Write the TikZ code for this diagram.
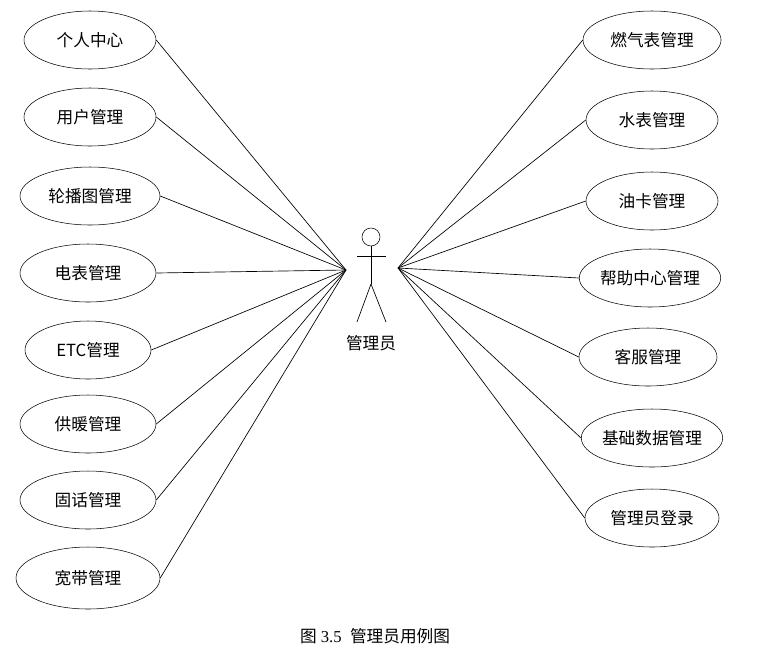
\documentclass[tikz,border=0pt]{standalone}
\usepackage{fontspec}
\setmainfont{Liberation Serif}
\newfontfamily\cjk{Noto Sans CJK SC}
\usetikzlibrary{shapes.geometric}
\begin{document}
\begin{tikzpicture}[x=0.75pt,y=-0.75pt,
  uc/.style={draw,ellipse,minimum width=132*0.75pt,minimum height=58*0.75pt,inner sep=0pt,font=\cjk\fontsize{12.5}{14}\selectfont},
  ln/.style={draw,line width=0.5pt}]
\useasboundingbox (0,0) rectangle (770,654);
\node[uc] (a1) at (90,40) {个人中心};
\node[uc] (a2) at (90,117) {用户管理};
\node[uc,minimum width=140*0.75pt] (a3) at (90,196) {轮播图管理};
\node[uc,minimum width=136*0.75pt] (a4) at (88,273) {电表管理};
\node[uc,minimum width=126*0.75pt] (a5) at (88,350) {ETC管理};
\node[uc,minimum width=136*0.75pt] (a6) at (88,424) {供暖管理};
\node[uc,minimum width=136*0.75pt] (a7) at (88,500) {固话管理};
\node[uc,minimum width=144*0.75pt,minimum height=62*0.75pt] (a8) at (88,578) {宽带管理};
\node[uc,minimum width=138*0.75pt] (b1) at (652,40) {燃气表管理};
\node[uc] (b2) at (652,120) {水表管理};
\node[uc] (b3) at (652,201) {油卡管理};
\node[uc,minimum width=140*0.75pt] (b4) at (650,278) {帮助中心管理};
\node[uc,minimum width=138*0.75pt] (b5) at (648,357) {客服管理};
\node[uc,minimum width=136*0.75pt] (b6) at (652,438) {基础数据管理};
\node[uc,minimum width=134*0.75pt] (b7) at (652,518) {管理员登录};
\coordinate (L) at (346,270);
\coordinate (R) at (398,268);
\foreach \i in {1,...,8} \draw[ln] (a\i.east) -- (L);
\foreach \i in {1,...,7} \draw[ln] (b\i.west) -- (R);
% actor
\node[draw,circle,minimum size=18*0.75pt,inner sep=0pt] (head) at (371,237) {};
\coordinate (hip) at (371,284);
\draw[ln] (head.south) -- (hip);
\draw[ln] (357,256) -- (386,256);
\draw[ln] (hip) -- (357,322);
\draw[ln] (hip) -- (386,322);
\node[font=\cjk\fontsize{12.5}{14}\selectfont] (act) at (371,343) {管理员};
\node[font=\fontsize{12.5}{14}\selectfont] (cap) at (375,636) {{\cjk 图} 3.5\ \ {\cjk 管理员用例图}};
\end{tikzpicture}
\end{document}
